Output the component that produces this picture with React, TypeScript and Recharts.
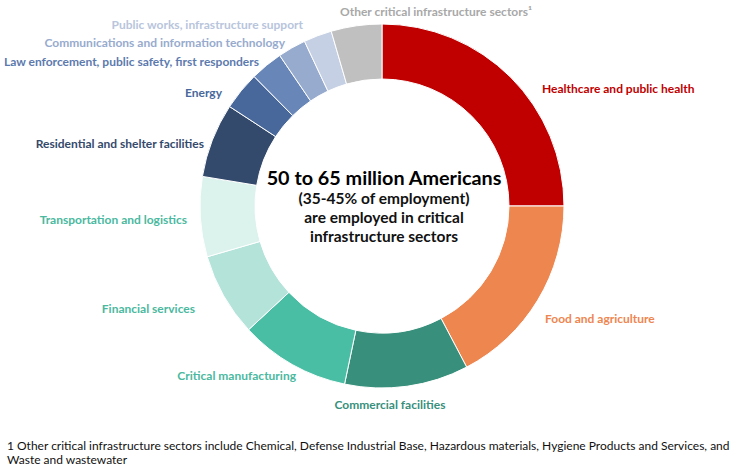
import React from 'react';
import { Cell, Pie, PieChart } from 'recharts';

// share of critical-infrastructure employment, clockwise from 12 o'clock
const sectors = [
  'Healthcare and public health',
  'Food and agriculture',
  'Commercial facilities',
  'Critical manufacturing',
  'Financial services',
  'Transportation and logistics',
  'Residential and shelter facilities',
  'Energy',
  'Law enforcement, public safety, first responders',
  'Communications and information technology',
  'Public works, infrastructure support',
  'Other critical infrastructure sectors\u00b9',
];
const shares = [25, 17.3, 11, 9.8, 7.4, 7.1, 6.6, 3.4, 2.9, 2.5, 2.5, 4.5];

const sliceColors = [
  '#C00000', '#EE8650', '#38907C', '#4ABEA4', '#B4E3D9', '#DBF2ED',
  '#344A6C', '#48689B', '#6886B8', '#97ABCE', '#C5D0E4', '#C0C0C0',
];
const labelColors = [
  '#C00000', '#EE8650', '#38907C', '#4AB9A0', '#4AB9A0', '#4AB9A0',
  '#344A6C', '#48689B', '#5C7AAE', '#97ABCE', '#B8C5DC', '#A8A8A8',
];

// where each sector name sits around the ring
const labelSpots: [number, number, 'start' | 'middle' | 'end'][] = [
  [542, 88, 'start'],
  [545, 318, 'start'],
  [390, 404, 'middle'],
  [296, 375, 'end'],
  [195, 308, 'end'],
  [187, 219, 'end'],
  [204, 143, 'end'],
  [222, 92, 'end'],
  [259, 61, 'end'],
  [285, 42, 'end'],
  [303, 24, 'end'],
  [436, 11, 'middle'],
];

const headline = '50 to 65 million Americans';
const subLines = ['(35-45% of employment)', 'are employed in critical', 'infrastructure sectors'];
const footnote = [
  '1 Other critical infrastructure sectors include Chemical, Defense Industrial Base, Hazardous materials, Hygiene Products and Services, and',
  'Waste and wastewater',
];

const data = sectors.map((name, i) => ({ name, value: shares[i] }));
const FONT = 'Lato, "Open Sans", sans-serif';

const renderLabel = (props: any) => {
  const i = props.index ?? sectors.indexOf(props.name);
  const [x, y, anchor] = labelSpots[i];
  return (
    <text
      x={x}
      y={y}
      textAnchor={anchor}
      dominantBaseline="central"
      fill={labelColors[i]}
      fontFamily={FONT}
      fontWeight={700}
      fontSize={12}
    >
      {sectors[i]}
    </text>
  );
};

export default function App() {
  return (
    <div style={{ position: 'absolute', left: 0, top: 0, width: 750, height: 468, background: '#fff' }}>
      <PieChart width={750} height={468} margin={{ top: 0, right: 0, bottom: 0, left: 0 }}>
        <Pie
          data={data}
          dataKey="value"
          nameKey="name"
          cx={382}
          cy={206}
          innerRadius={127}
          outerRadius={182}
          startAngle={90}
          endAngle={-270}
          stroke="#fff"
          strokeWidth={1}
          label={renderLabel}
          labelLine={false}
          isAnimationActive={false}
        >
          {data.map((d, i) => (
            <Cell key={d.name} fill={sliceColors[i]} />
          ))}
        </Pie>
      </PieChart>
      <svg width={750} height={468} style={{ position: 'absolute', left: 0, top: 0, pointerEvents: 'none' }}>
        <text x={384} y={177} textAnchor="middle" dominantBaseline="central" fontFamily={FONT} fontWeight={700} fontSize={19.8} fill="#000">
          {headline}
        </text>
        {subLines.map((s, i) => (
          <text key={s} x={384} y={198 + i * 19} textAnchor="middle" dominantBaseline="central" fontFamily={FONT} fontWeight={700} fontSize={15.5} fill="#111">
            {s}
          </text>
        ))}
        {footnote.map((s, i) => (
          <text key={s} x={7} y={445 + i * 14} dominantBaseline="central" fontFamily={FONT} fontSize={12} fill="#111">
            {s}
          </text>
        ))}
      </svg>
    </div>
  );
}
